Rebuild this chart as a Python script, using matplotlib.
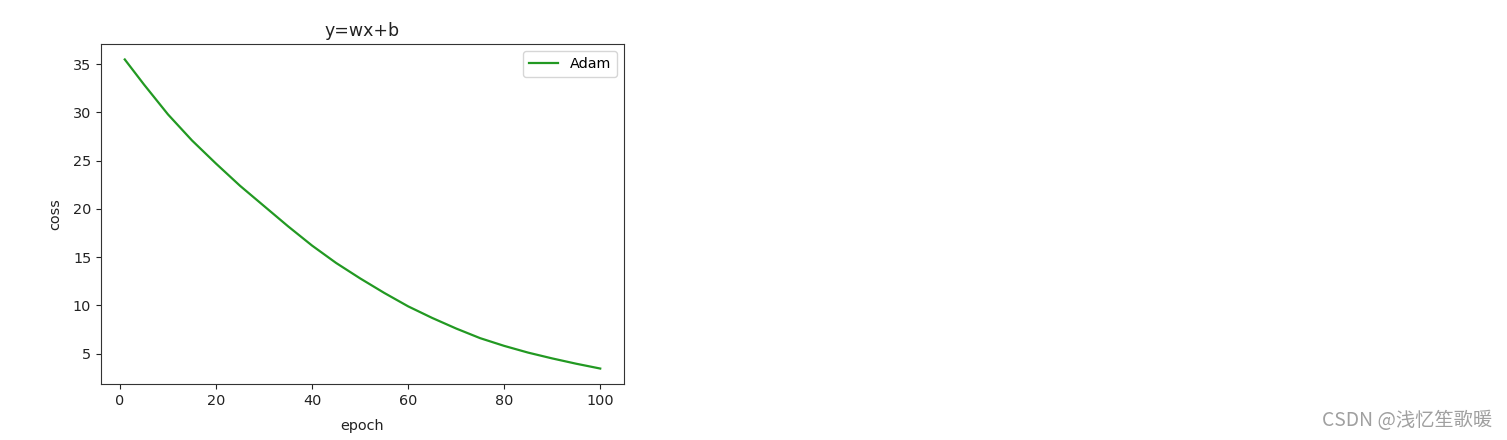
import matplotlib
matplotlib.use("Agg")
import matplotlib.pyplot as plt

# Data
epochs = [1, 5, 10, 15, 20, 25, 30, 35, 40, 45, 50, 55, 60, 65, 70, 75, 80, 85, 90, 95, 100]
loss = [35.5, 32.9, 29.8, 27.1, 24.7, 22.4, 20.3, 18.2, 16.2, 14.4, 12.8, 11.3, 9.9,
        8.7, 7.6, 6.6, 5.8, 5.1, 4.5, 3.95, 3.45]
x_ticks = [0, 20, 40, 60, 80, 100]
y_ticks = [5, 10, 15, 20, 25, 30, 35]

plt.rcParams['font.family'] = ['DejaVu Sans']
plt.rcParams['font.size'] = 10.4

fig = plt.figure(figsize=(15.07, 4.40), dpi=100)
ax = fig.add_axes([101 / 1507, 56 / 440, 523 / 1507, 340 / 440])

ax.plot(epochs, loss, color='#229922', linewidth=1.6, label='Adam')
ax.set_xticks(x_ticks)
ax.set_yticks(y_ticks)
ax.set_title('y=wx+b', fontsize=12.5, color='#222222')
ax.set_xlabel('epoch', color='#222222', labelpad=8)
ax.set_ylabel('coss', color='#222222', labelpad=7.5)
ax.tick_params(colors='#222222', labelcolor='#222222')
for s in ax.spines.values():
    s.set_color('#333333')
ax.legend(loc='upper right')

fig.text(1492 / 1507, 20 / 440, 'CSDN @浅忆笙歌暖', ha='right', va='center',
         fontsize=13.9, color='#a0a0a0',
         family=['Noto Sans CJK SC', 'DejaVu Sans'])

fig.savefig('out.png', dpi=100)
